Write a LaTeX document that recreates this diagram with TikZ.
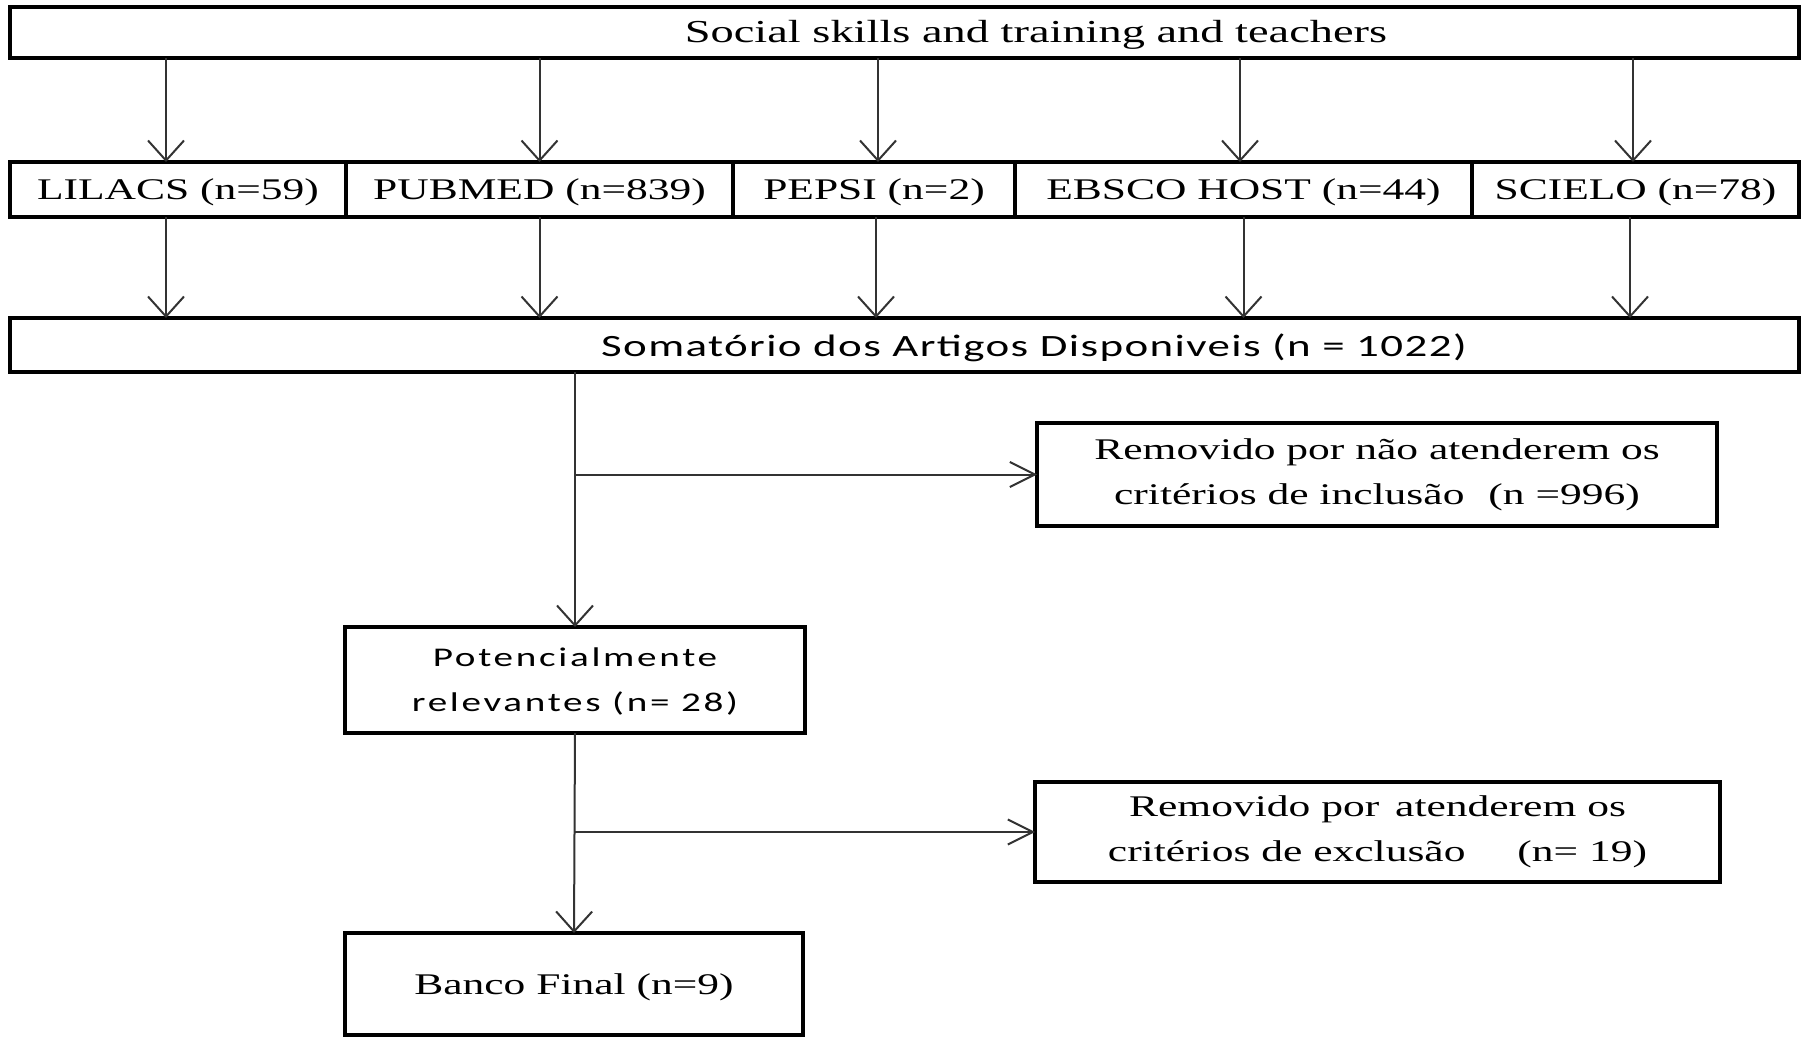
\documentclass[tikz,border=0pt]{standalone}
\usepackage{fontspec}
\setmainfont{Liberation Serif}[FakeStretch=1.45]
\newfontfamily\sumfont{Carlito}[FakeStretch=1.45,LetterSpace=4.5]
\newfontfamily\potfont{Carlito}[FakeStretch=1.45,LetterSpace=10]
\usetikzlibrary{arrows.meta,positioning}

\tikzset{
  box/.style={draw, line width=2pt, inner sep=0pt, outer sep=0pt, font=\fontsize{15}{22.5}\selectfont},
  dbbox/.style={box, minimum height=27.5pt, text depth=0pt},
  link/.style={draw=black!80, line width=1pt, -{Straight Barb[length=10pt,width=18pt,line width=1pt]}},
  side/.style={link, -{Straight Barb[length=12.5pt,width=12.5pt,line width=1pt]}},
}

\begin{document}
\begin{tikzpicture}[x=0.5pt, y=-0.5pt]
  \useasboundingbox (0,0) rectangle (1810,1043);
  % search terms
  \node (search) [box, minimum width=894.5pt, minimum height=25.5pt] at (904.5,32.5) {};
  \node (searchtext) [text depth=0pt] at (1036,31) {\fontsize{16}{16}\selectfont Social skills and training and teachers};
  % databases
  \node (lilacs) [dbbox, minimum width=168pt] at (178,189.5) {LILACS (n=59)};
  \node (pubmed) [dbbox, minimum width=193.5pt, right=0pt of lilacs] {PUBMED (n=839)};
  \node (pepsi) [dbbox, minimum width=141pt, right=0pt of pubmed] {PEPSI (n=2)};
  \node (ebsco) [dbbox, minimum width=228.5pt, right=0pt of pepsi] {EBSCO HOST (n=44)};
  \node (scielo) [dbbox, minimum width=163.5pt, right=0pt of ebsco] {SCIELO (n=78)};
  % sum of articles
  \node (sum) [box, minimum width=894.5pt, minimum height=27pt] at (904.5,345) {};
  \node (sumtext) [text depth=0pt] at (1034,345) {\sumfont\fontsize{15.5}{15.5}\selectfont Somatório dos Artigos Disponiveis (n = 1022)};
  % screening
  \node (rem1) [box, align=center, minimum width=340pt, minimum height=51.5pt] at (1377,474.5)
    {Removido por não atenderem os\\critérios de inclusão\hspace{12pt}(n =996)};
  \node (pot) [box, align=center, minimum width=230pt, minimum height=53pt, text depth=0pt,
    font=\potfont\fontsize{13.5}{22.5}\selectfont] at (575,680) {Potencialmente\\relevantes (n= 28)};
  \node (rem2) [box, align=center, minimum width=342.5pt, minimum height=50pt] at (1377.5,832)
    {Removido por\hspace{8pt}atenderem os\\critérios de exclusão\hspace{26pt}(n= 19)};
  \node (final) [box, minimum width=229pt, minimum height=51pt, text depth=0pt] at (574,984) {Banco Final (n=9)};

  \foreach \db/\dx/\ex in {lilacs/-6/-6, pubmed/0/0, pepsi/2/1, ebsco/-1.75/0, scielo/-1.25/-2.75} {
    \draw[link] ([xshift=\dx pt]\db.north |- search.south) -- ([xshift=\dx pt]\db.north);
    \draw[link] ([xshift=\ex pt]\db.south) -- ([xshift=\ex pt]\db.south |- sum.north);
  }

  \draw[link] (sum.south -| pot.north) -- (pot.north);
  \coordinate (fork1) at (pot.north |- rem1.west);
  \draw[side] (fork1) -- (rem1.west);
  \draw[link] (pot.south) -- (final.north);
  \coordinate (fork2) at (pot.south |- rem2.west);
  \draw[side] (fork2) -- (rem2.west);
\end{tikzpicture}
\end{document}
